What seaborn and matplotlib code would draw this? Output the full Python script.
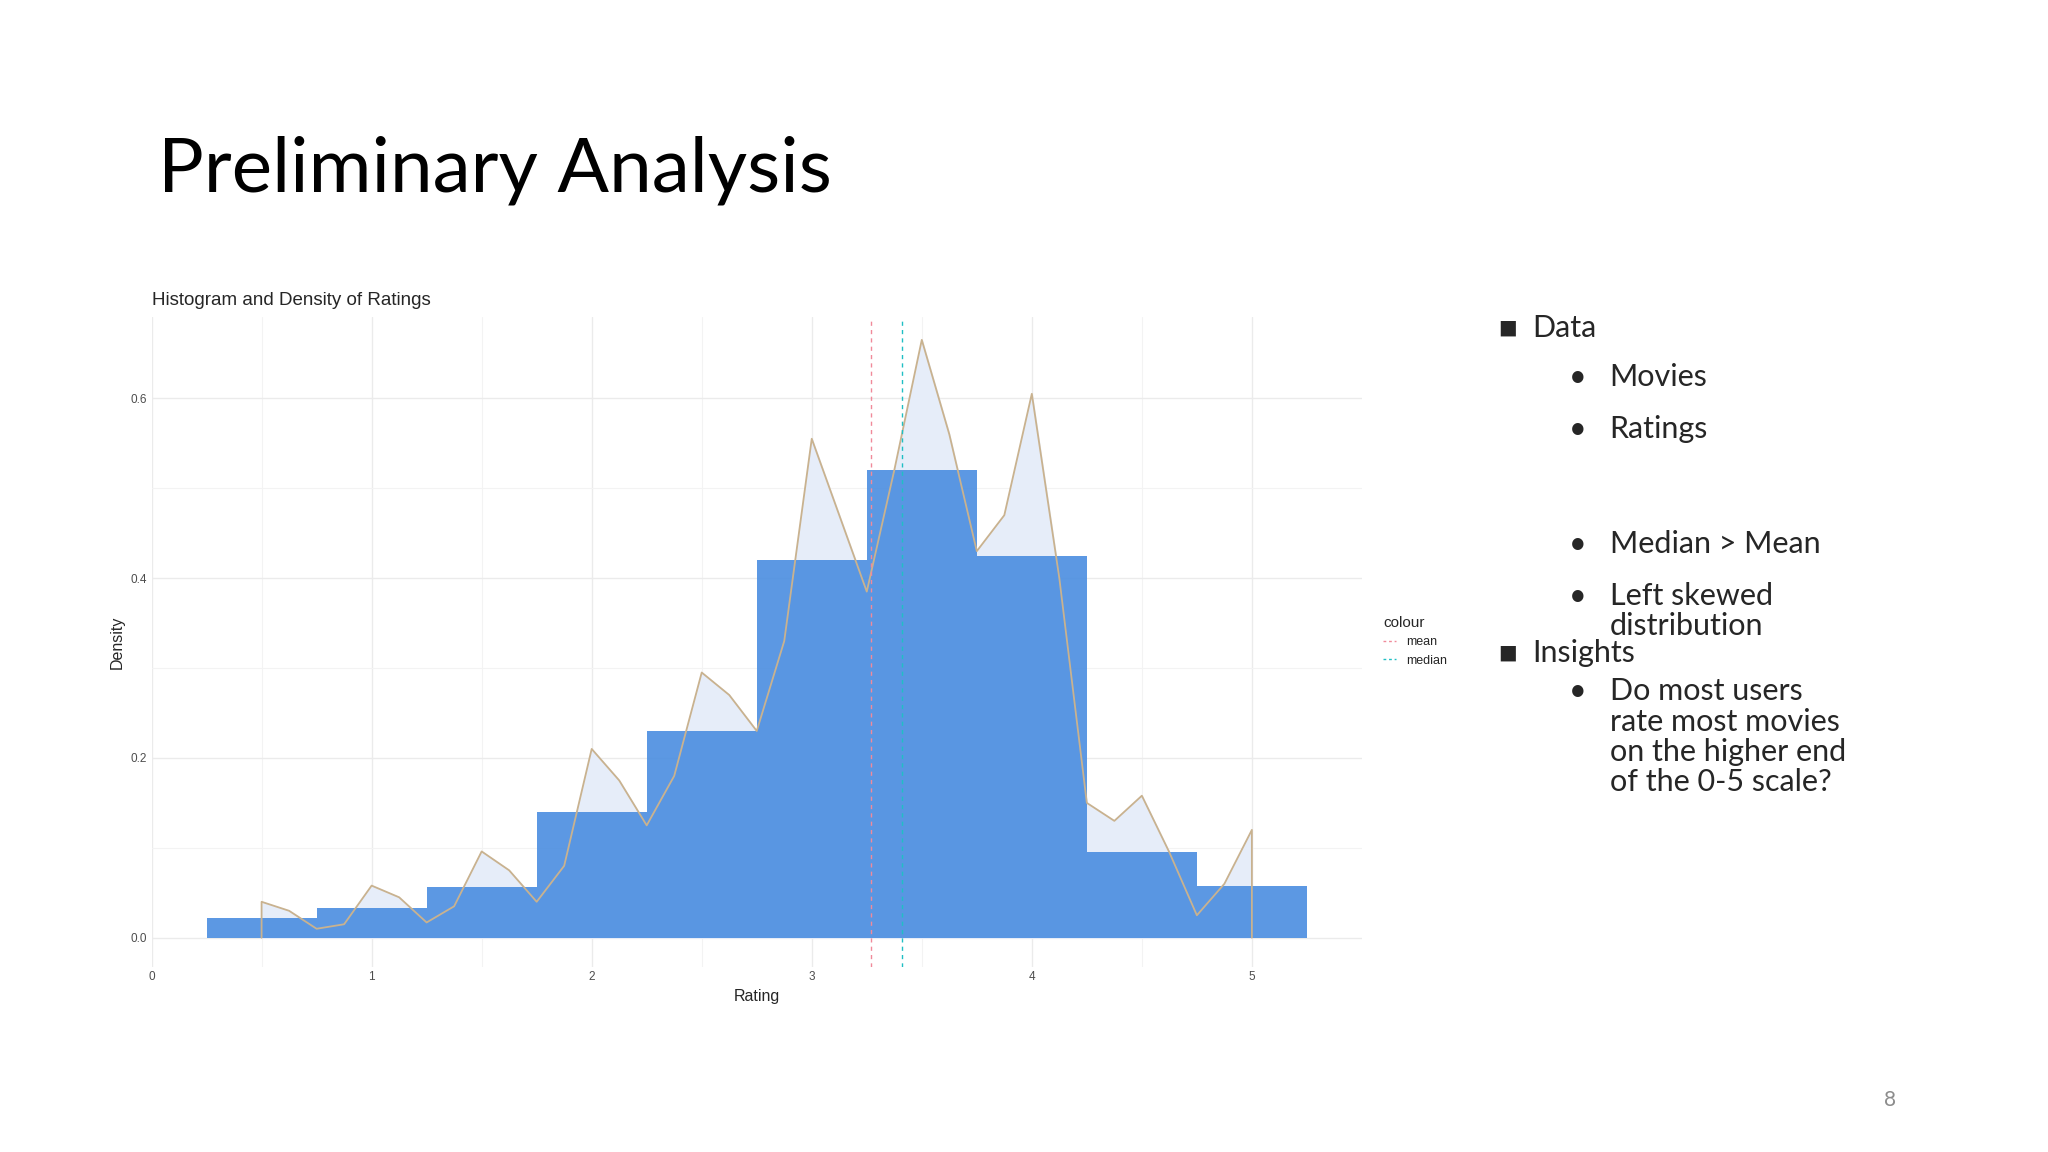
import numpy as np
import pandas as pd
import matplotlib
matplotlib.use("Agg")
import matplotlib.pyplot as plt
import seaborn as sns
from matplotlib.lines import Line2D

# ── data ─────────────────────────────────────────────────────────────────────
BIN_CENTERS = [0.5, 1.0, 1.5, 2.0, 2.5, 3.0, 3.5, 4.0, 4.5, 5.0]
BIN_HEIGHTS = [0.022, 0.033, 0.057, 0.140, 0.230, 0.420, 0.520, 0.425, 0.095, 0.058]

DENS_X = [0.5, 0.5, 0.625, 0.75, 0.875, 1.0, 1.125, 1.25, 1.375, 1.5, 1.625, 1.75,
          1.875, 2.0, 2.125, 2.25, 2.375, 2.5, 2.625, 2.75, 2.875, 3.0, 3.125,
          3.25, 3.375, 3.5, 3.625, 3.75, 3.875, 4.0, 4.125, 4.25, 4.375, 4.5,
          4.625, 4.75, 4.875, 5.0, 5.0]
DENS_Y = [0.0, 0.040, 0.030, 0.010, 0.015, 0.058, 0.045, 0.017, 0.035, 0.096,
          0.075, 0.040, 0.080, 0.210, 0.175, 0.125, 0.180, 0.295, 0.270, 0.230,
          0.330, 0.555, 0.470, 0.385, 0.520, 0.665, 0.560, 0.430, 0.470, 0.605,
          0.400, 0.150, 0.130, 0.158, 0.095, 0.025, 0.060, 0.120, 0.0]

MEAN_RATING = 3.27
MEDIAN_RATING = 3.41

BULLETS_L1 = [("Data", 0.285), ("Insights", 0.567)]
BULLETS_L2 = [("Movies", 0.315), ("Ratings", 0.360), ("Median > Mean", 0.460),
              ("Left skewed\ndistribution", 0.505),
              ("Do most users\nrate most movies\non the higher end\nof the 0-5 scale?", 0.588)]

# ── figure ───────────────────────────────────────────────────────────────────
sns.set_theme(style="whitegrid")
plt.rcParams["font.family"] = ["Liberation Sans", "DejaVu Sans"]

fig = plt.figure(figsize=(20.48, 11.52), dpi=100, facecolor="white")
fig.text(0.077, 0.852, "Preliminary Analysis", fontsize=55, family="Lato",
         va="center", ha="left", color="black")
fig.text(0.074, 0.739, "Histogram and Density of Ratings", fontsize=13.5,
         va="center", ha="left")

ax = fig.add_axes([0.074, 0.161, 0.591, 0.5635])
ax.set_facecolor("white")

dens = pd.DataFrame({"x": DENS_X, "y": DENS_Y})
ax.fill_between(dens["x"], dens["y"], color="#e6edf9", zorder=1)

hist = pd.DataFrame({"rating": BIN_CENTERS, "h": BIN_HEIGHTS})
sns.histplot(data=hist, x="rating", weights="h", binwidth=0.5, binrange=(0.25, 5.25),
             color="#4a8de0", alpha=0.9, edgecolor="none", ax=ax)

ax.plot(dens["x"], dens["y"], color="#c9b28f", lw=1.3, zorder=3)

ax.axvline(MEAN_RATING, color="#f08a9a", ls=(0, (3, 3)), lw=1.0, zorder=4)
ax.axvline(MEDIAN_RATING, color="#20bfc4", ls=(0, (3, 3)), lw=1.0, zorder=4)

ax.set_xlim(0, 5.5)
ax.set_ylim(-0.032, 0.69)
ax.set_xticks([0, 1, 2, 3, 4, 5])
ax.set_yticks([0.0, 0.2, 0.4, 0.6])
ax.set_yticklabels(["0.0", "0.2", "0.4", "0.6"])
ax.set_xticks(np.arange(0.5, 5.5, 1.0), minor=True)
ax.set_yticks([0.1, 0.3, 0.5], minor=True)
ax.grid(which="major", color="#ebebeb", lw=1.0)
ax.grid(which="minor", color="#f3f3f3", lw=0.8)
ax.set_axisbelow(True)
ax.tick_params(axis="both", which="both", length=0, labelsize=8.5, colors="#4d4d4d")
for s in ax.spines.values():
    s.set_visible(False)
ax.set_xlabel("Rating", fontsize=11.5)
ax.set_ylabel("Density", fontsize=11.5)

handles = [Line2D([0], [0], color="#f08a9a", ls=(0, (2, 2)), lw=1.0),
           Line2D([0], [0], color="#20bfc4", ls=(0, (2, 2)), lw=1.0)]
leg = fig.legend(handles, ["mean", "median"], title="colour", loc="upper left",
                 bbox_to_anchor=(0.67, 0.475), frameon=False, fontsize=9,
                 title_fontsize=11, handlelength=1.0)
leg._legend_box.align = "left"

# ── bullet text ──────────────────────────────────────────────────────────────
for txt, y in BULLETS_L1:
    fig.text(0.731, 1 - y, "\u25aa", fontsize=22, family="DejaVu Sans", va="center")
    fig.text(0.748, 1 - y, txt, fontsize=22, family="Lato", va="center")
for txt, y in BULLETS_L2:
    fig.text(0.766, 1 - y, "\u2022", fontsize=22, family="Lato", va="top")
    fig.text(0.786, 1 - y, txt, fontsize=22, family="Lato", va="top", linespacing=1.1)

fig.text(0.920, 0.045, "8", fontsize=15, family="Lato", color="#8c8c8c", va="center")

fig.savefig("out.png", dpi=100, facecolor="white")
